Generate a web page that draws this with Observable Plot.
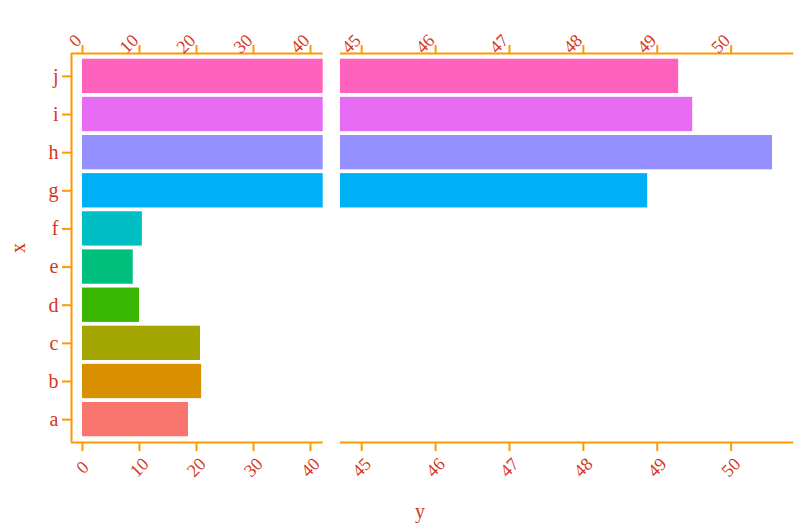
<!DOCTYPE html>
<html>
<head>
<meta charset="utf-8">
<script src="https://cdn.jsdelivr.net/npm/d3@7"></script>
<script src="https://cdn.jsdelivr.net/npm/@observablehq/plot@0.6"></script>
<style>
  html, body { margin: 0; padding: 0; background: white; }
  #wrap { position: relative; width: 808px; height: 532px; font-family: "Liberation Serif", "Times New Roman", serif; }
  #left { position: absolute; left: 0; top: 0; }
  #right { position: absolute; left: 330px; top: 0; }
  #ytitle { position: absolute; left: 400px; top: 499px; width: 40px; text-align: center; font-size: 20px; line-height: 24px; color: #d4371e; }
</style>
</head>
<body>
<div id="wrap">
  <div id="left"></div>
  <div id="right"></div>
  <div id="ytitle">y</div>
</div>
<script>
const categories = ["a", "b", "c", "d", "e", "f", "g", "h", "i", "j"];
const values = [18.6, 20.9, 20.7, 10.0, 8.9, 10.5, 48.87, 50.56, 49.48, 49.29];
const colors = ["#F8766D", "#D89000", "#A3A500", "#39B600", "#00BF7D", "#00BFC4", "#00B0F6", "#9590FF", "#E76BF3", "#FF62BC"];
const leftTicks = [0, 10, 20, 30, 40];
const rightTicks = [45, 46, 47, 48, 49, 50];
const leftDomain = [-1.93, 42.23];
const rightDomain = [44.713, 50.848];
const yDomain = [-0.6, 9.6];

const orange = "#ff9900";
const textColor = "#d4371e";
const font = "'Liberation Serif', 'Times New Roman', serif";

const rows = categories.map((c, i) => ({cat: c, i, value: values[i]}));
const idx = categories.map((c, i) => i);

const common = {
  height: 532,
  marginTop: 53,
  marginBottom: 90,
  y: {domain: yDomain},
  color: {domain: categories, range: colors},
  style: {fontFamily: font, background: "transparent", overflow: "visible"}
};

function xTickMarks(ticks) {
  return [
    Plot.axisX({anchor: "top", ticks, tickSize: 9, stroke: orange, strokeWidth: 2, fill: "none", label: null}),
    Plot.axisX({anchor: "bottom", ticks, tickSize: 9, stroke: orange, strokeWidth: 2, fill: "none", label: null}),
    Plot.text(ticks, {x: d => d, frameAnchor: "top", dx: -4, dy: -16, rotate: -45, textAnchor: "end", lineAnchor: "middle", fill: textColor, fontSize: 18}),
    Plot.text(ticks, {x: d => d, frameAnchor: "bottom", dy: 25, rotate: -45, textAnchor: "middle", lineAnchor: "middle", fill: textColor, fontSize: 18})
  ];
}

const left = Plot.plot({
  ...common,
  width: 330,
  marginLeft: 71,
  marginRight: 7.3,
  x: {domain: leftDomain},
  marks: [
    Plot.rect(rows, {x1: 0, x2: "value", y1: d => d.i - 0.45, y2: d => d.i + 0.45, fill: "cat", clip: true}),
    Plot.ruleY(yDomain, {stroke: orange, strokeWidth: 2}),
    Plot.ruleX([leftDomain[0]], {stroke: orange, strokeWidth: 2}),
    ...xTickMarks(leftTicks),
    Plot.axisY({anchor: "left", ticks: idx, tickFormat: i => categories[i], tickSize: 9, tickPadding: 4, stroke: orange, strokeWidth: 2, fill: textColor, fontSize: 20, label: null}),
    Plot.text(["x"], {frameAnchor: "left", dx: -53, rotate: -90, textAnchor: "middle", lineAnchor: "middle", fill: textColor, fontSize: 20})
  ]
});

const right = Plot.plot({
  ...common,
  width: 478,
  marginLeft: 10,
  marginRight: 14.7,
  x: {domain: rightDomain},
  y: {domain: yDomain, axis: null},
  marks: [
    Plot.rect(rows, {x1: 0, x2: "value", y1: d => d.i - 0.45, y2: d => d.i + 0.45, fill: "cat", clip: true}),
    Plot.ruleY(yDomain, {stroke: orange, strokeWidth: 2}),
    ...xTickMarks(rightTicks)
  ]
});

document.getElementById("left").appendChild(left);
document.getElementById("right").appendChild(right);
</script>
</body>
</html>
